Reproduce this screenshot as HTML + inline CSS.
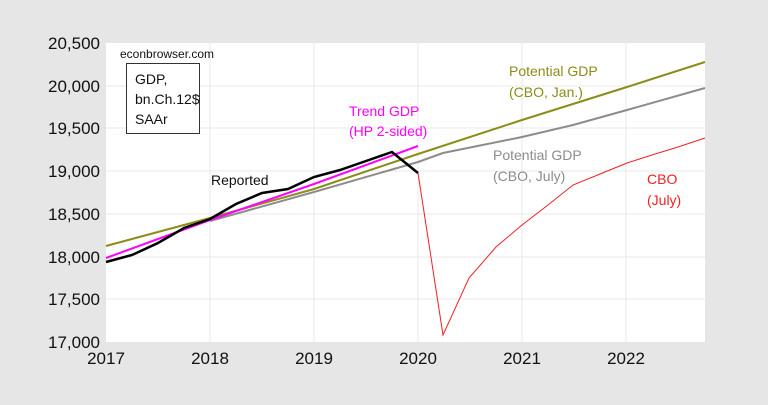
<!DOCTYPE html>
<html><head><style>
body{margin:0;background:#e6e6e6;}
svg{display:block;font-family:"Liberation Sans",sans-serif;}
</style></head><body>
<svg width="768" height="405" viewBox="0 0 768 405">
<rect width="768" height="405" fill="#e6e6e6"/>
<rect x="106" y="43" width="599" height="299" fill="#fff"/>
<g stroke="#e8e8e8" stroke-width="1">
<line x1="106" x2="705" y1="86" y2="86"/><line x1="106" x2="705" y1="128" y2="128"/>
<line x1="106" x2="705" y1="171" y2="171"/><line x1="106" x2="705" y1="214" y2="214"/>
<line x1="106" x2="705" y1="257" y2="257"/><line x1="106" x2="705" y1="299" y2="299"/>
<line x1="210" x2="210" y1="43" y2="342"/><line x1="314" x2="314" y1="43" y2="342"/>
<line x1="418" x2="418" y1="43" y2="342"/><line x1="522" x2="522" y1="43" y2="342"/>
<line x1="626" x2="626" y1="43" y2="342"/>
</g>
<g font-size="17" fill="#111" text-anchor="end">
<text x="100" y="49">20,500</text><text x="100" y="92">20,000</text><text x="100" y="134">19,500</text>
<text x="100" y="177">19,000</text><text x="100" y="220">18,500</text><text x="100" y="263">18,000</text>
<text x="100" y="305">17,500</text><text x="100" y="348">17,000</text>
</g>
<g font-size="17" fill="#111" text-anchor="middle">
<text x="106" y="364">2017</text><text x="210" y="364">2018</text><text x="314" y="364">2019</text>
<text x="418" y="364">2020</text><text x="522" y="364">2021</text><text x="626" y="364">2022</text>
</g>
<polyline fill="none" stroke="#8c8c8c" stroke-width="2" points="210,221 314,192 418,162 443,153 522,137 573,125 627,110 705,88"/>
<polyline fill="none" stroke="#8c8c1a" stroke-width="2" points="106,246 210,218 314,189 418,154 522,120 627,87 705,62"/>
<polyline fill="none" stroke="#ff00ff" stroke-width="2" points="106,258 210,220 314,184 418,146"/>
<polyline fill="none" stroke="#000" stroke-width="2.5" points="106,262 132,255 158,243 184,228 210,219 236,204 262,193 288,189 314,177 340,170 366,161 392,152 418,173"/>
<polyline fill="none" stroke="#ee2222" stroke-width="1" points="418,173 443,335 469,278 496,247 522,225 548,205 573,185 600,174 627,163 652,155 678,147 705,138"/>
<text x="120" y="58" font-size="12" fill="#111">econbrowser.com</text>
<rect x="126.5" y="63.5" width="73" height="70" fill="#fff" stroke="#333"/>
<g font-size="14" fill="#111"><text x="135" y="84">GDP,</text><text x="135" y="104">bn.Ch.12$</text><text x="135" y="124">SAAr</text></g>
<text x="211" y="185" font-size="14" fill="#111">Reported</text>
<g font-size="14" fill="#ff00ff"><text x="349" y="116">Trend GDP</text><text x="349" y="136">(HP 2-sided)</text></g>
<g font-size="14" fill="#8c8c1a"><text x="509" y="76">Potential GDP</text><text x="509" y="97">(CBO, Jan.)</text></g>
<g font-size="14" fill="#8c8c8c"><text x="493" y="160">Potential GDP</text><text x="493" y="181">(CBO, July)</text></g>
<g font-size="14" fill="#ee2222"><text x="647" y="184">CBO</text><text x="647" y="205">(July)</text></g>
</svg>
</body></html>
